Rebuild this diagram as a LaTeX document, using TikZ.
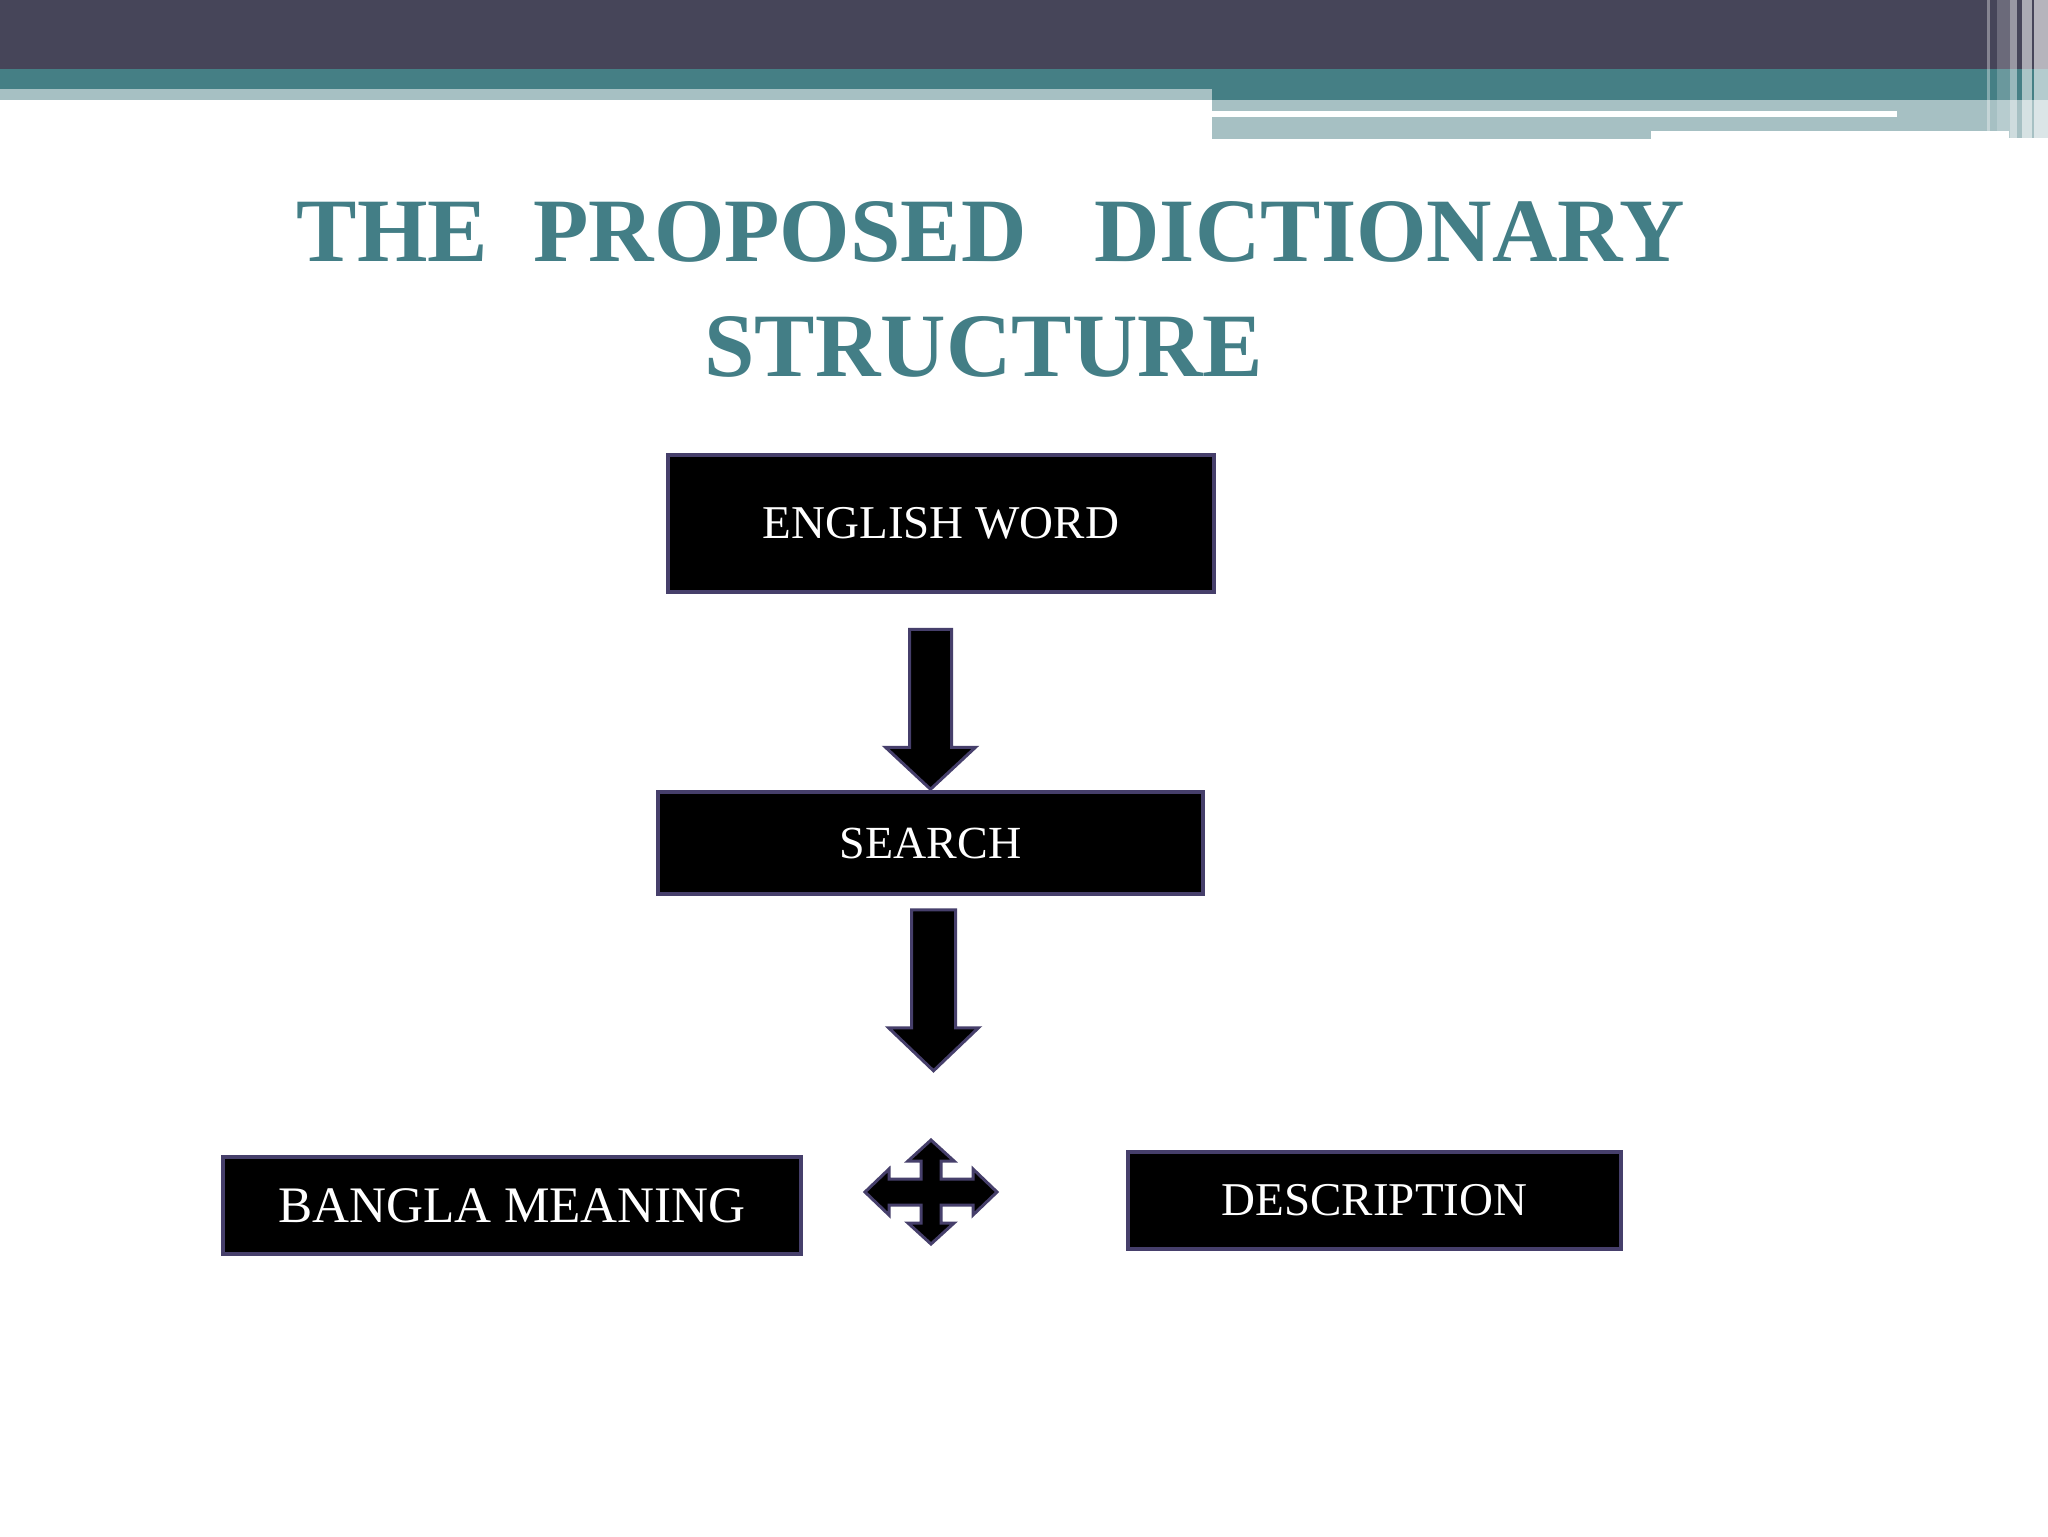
\documentclass[tikz,border=0pt]{standalone}
\usepackage{fontspec}
\setmainfont{Liberation Serif}
\usepackage{xcolor}
\usetikzlibrary{calc}

\definecolor{hdark}{HTML}{464559}
\definecolor{hteal}{HTML}{457F85}
\definecolor{hlight}{HTML}{A6C0C3}
\definecolor{titleteal}{HTML}{437E86}
\definecolor{boxline}{HTML}{463F6B}

\tikzset{
  wordbox/.style={draw=boxline, line width=1.75pt, fill=black, text=white, inner sep=0pt},
  blockarrow/.style={draw=boxline, line width=1.5pt, fill=black, line join=miter},
  titletext/.style={text=titleteal, font=\fontsize{45.3}{50}\selectfont\bfseries, anchor=base, inner sep=0pt}
}

\begin{document}
\begin{tikzpicture}[x=0.5pt,y=-0.5pt]
	 \useasboundingbox[fill=white] (0,0) rectangle (2048,1536);
	 % header bands
	 \fill[hdark] (0,0) rectangle (2048,69);
	 \fill[hteal] (0,69) rectangle (1212,89);
	 \fill[hteal] (1212,69) rectangle (2048,100);
	 \fill[hlight] (0,89) rectangle (1212,100);
	 \fill[hlight] (1212,100) rectangle (1651,139);
	 \fill[hlight] (1651,100) rectangle (2009,131);
	 \fill[hlight] (2009,100) rectangle (2048,138);
	 \fill[white] (1212,111) rectangle (1897,117);
	 \foreach \xa/\xb/\op in {1987/1990/.35, 1997/2010/.2, 2010/2017/.45, 2022/2032/.55, 2034/2048/.6}
	 	 \fill[white,opacity=\op] (\xa,0) rectangle (\xb,138);
	 % title
	 \node[titletext] (title1) at (991,261) {THE\ \ PROPOSED\ \ \ DICTIONARY};
	 \node[titletext] (title2) at (984,376) {STRUCTURE};
	 % boxes
	 \node[wordbox, minimum width=273pt, minimum height=68.5pt, font=\fontsize{23.5}{28}\selectfont] (english) at (941,523.5) {ENGLISH WORD};
	 \node[wordbox, minimum width=272.5pt, minimum height=51pt, font=\fontsize{23}{28}\selectfont] (search) at (930.5,843) {SEARCH};
	 \node[wordbox, minimum width=289pt, minimum height=48.5pt, font=\fontsize{25.6}{30}\selectfont] (bangla) at (512,1205.5) {BANGLA MEANING};
	 \node[wordbox, minimum width=246.5pt, minimum height=48.5pt, font=\fontsize{23.5}{28}\selectfont] (descr) at (1374.5,1200.5) {DESCRIPTION};
	 % arrows
	 \coordinate (tipA) at ($(search.north)+(0,-1)$);
	 \draw[blockarrow] (tipA) -- ++(-45,-42) -- ++(24,0) -- ++(0,-118) -- ++(42,0) -- ++(0,118) -- ++(24,0) -- cycle;
	 \coordinate (tipB) at ($(search.south)+(3,175)$);
	 \draw[blockarrow] (tipB) -- ++(-45,-43) -- ++(23,0) -- ++(0,-118) -- ++(44,0) -- ++(0,118) -- ++(23,0) -- cycle;
	 \coordinate (hub) at (931,1192);
	 \draw[blockarrow,shift={(hub)}] (0,-52) -- (23,-31) -- (10,-31) -- (10,-13) -- (42,-13) -- (42,-23) -- (66,0)
	 	 -- (42,23) -- (42,13) -- (10,13) -- (10,31) -- (23,31) -- (0,52) -- (-23,31) -- (-10,31) -- (-10,13)
	 	 -- (-42,13) -- (-42,23) -- (-66,0) -- (-42,-23) -- (-42,-13) -- (-10,-13) -- (-10,-31) -- (-23,-31) -- cycle;
\end{tikzpicture}
\end{document}
